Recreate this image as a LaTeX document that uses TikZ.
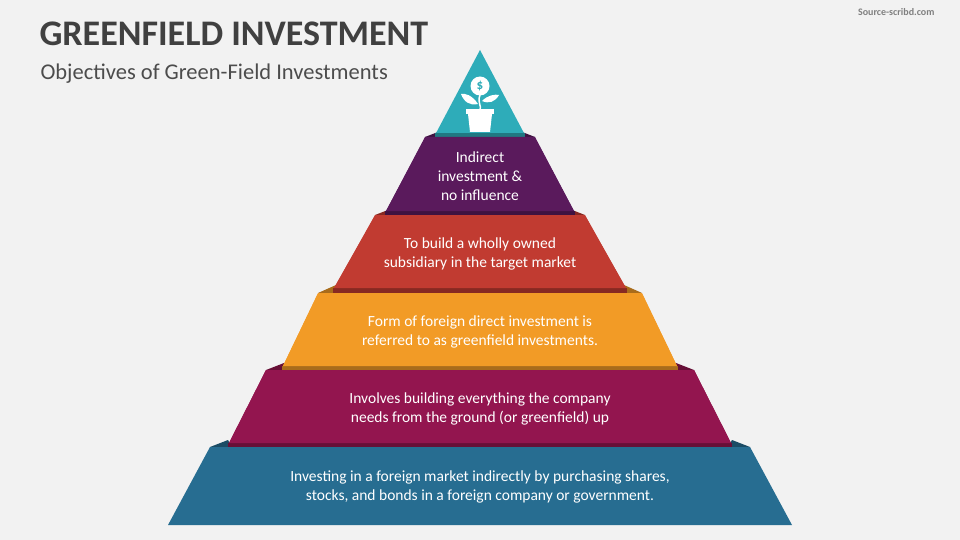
\documentclass[tikz,border=0pt]{standalone}
\usepackage{fontspec}
\setmainfont{Carlito}
\begin{document}
\begin{tikzpicture}[x=1pt,y=-1pt,
  lbl/.style={text=white,font=\fontsize{15.5}{19}\selectfont,align=center}]
\definecolor{bg}{HTML}{F2F2F2}
\definecolor{cteal}{HTML}{2EACB9}
\definecolor{cpur}{HTML}{5A1A5C}
\definecolor{cred}{HTML}{C13B31}
\definecolor{corg}{HTML}{F29B26}
\definecolor{cmag}{HTML}{93154F}
\definecolor{cblue}{HTML}{276D91}
\fill[bg] (0,0) rectangle (960,540);
\useasboundingbox (0,0) rectangle (960,540);
\node[anchor=west,font=\bfseries\fontsize{36}{38}\selectfont,text=black!75] (title) at (36,34) {GREENFIELD INVESTMENT};
\node[anchor=west,font=\fontsize{22.5}{25}\selectfont,text=black!70] (sub) at (37,74) {Objectives of Green-Field Investments};
\node[anchor=east,font=\bfseries\fontsize{10}{12}\selectfont,text=black!50] (src) at (938,12) {Source-scribd.com};
% flaps
\foreach \t/\lx/\py/\c in {137/425/135/cpur,215/375/213/cred,293/318/290/corg,370/266/368/cmag,447/210/445/cblue}{
  \fill[\c!70!black] (\lx,\t) -- (\lx+18,\py-5) -- (\lx+22,\t) -- cycle;
  \fill[\c!70!black] (960-\lx,\t) -- (960-\lx-18,\py-5) -- (960-\lx-22,\t) -- cycle;
}
\fill[cteal] (480,50) -- (525,135) -- (435,135) -- cycle;
\fill[cteal!70!black] (435,133) rectangle (525,138);
\fill[cpur] (425,137) -- (535,137) -- (575,213) -- (385,213) -- cycle;
\fill[cpur!70!black] (385,211) rectangle (575,216);
\fill[cred] (375,215) -- (585,215) -- (627,290) -- (333,290) -- cycle;
\fill[cred!70!black] (333,288) rectangle (627,294);
\fill[corg] (318,293) -- (642,293) -- (678,368) -- (282,368) -- cycle;
\fill[corg!70!black] (282,366) rectangle (678,371);
\fill[cmag] (266,370) -- (694,370) -- (732,445) -- (228,445) -- cycle;
\fill[cmag!70!black] (228,443) rectangle (732,448);
\fill[cmag] (266,370) -- (694,370) -- (731,443) -- (229,443) -- cycle;
\fill[cblue] (210,447) -- (750,447) -- (792,525) -- (168,525) -- cycle;
\fill[cpur] (425,138) -- (535,138) -- (574,211) -- (386,211) -- cycle;
\fill[cred] (375,216) -- (585,216) -- (626,288) -- (334,288) -- cycle;
\fill[corg] (318,294) -- (642,294) -- (677,366) -- (283,366) -- cycle;
% icon
\fill[white] (480,86) circle (9.5);
\node[text=cteal,font=\bfseries\fontsize{13}{13}\selectfont] (dol) at (480,86) {\$};
\draw[white,line width=1.5] (480,95) .. controls (477,103) and (482,106) .. (480,110);
\fill[white] (478,104) .. controls (472,95) and (465,93) .. (461,94) .. controls (464,102) and (470,106) .. (478,104) -- cycle;
\fill[white] (482,101) .. controls (488,95) and (495,94) .. (499,95) .. controls (495,102) and (489,104) .. (482,101) -- cycle;
\fill[white] (466,109) rectangle (494,114);
\fill[white] (468,114) -- (492,114) -- (490,132) -- (470,132) -- cycle;
% labels
\node[lbl] (l1) at (480,176) {Indirect\\investment \&\\no influence};
\node[lbl] (l2) at (480,254) {To build a wholly owned\\subsidiary in the target market};
\node[lbl] (l3) at (480,332) {Form of foreign direct investment is\\referred to as greenfield investments.};
\node[lbl] (l4) at (480,409) {Involves building everything the company\\needs from the ground (or greenfield) up};
\node[lbl] (l5) at (480,487) {Investing in a foreign market indirectly by purchasing shares,\\stocks, and bonds in a foreign company or government.};
\end{tikzpicture}
\end{document}
